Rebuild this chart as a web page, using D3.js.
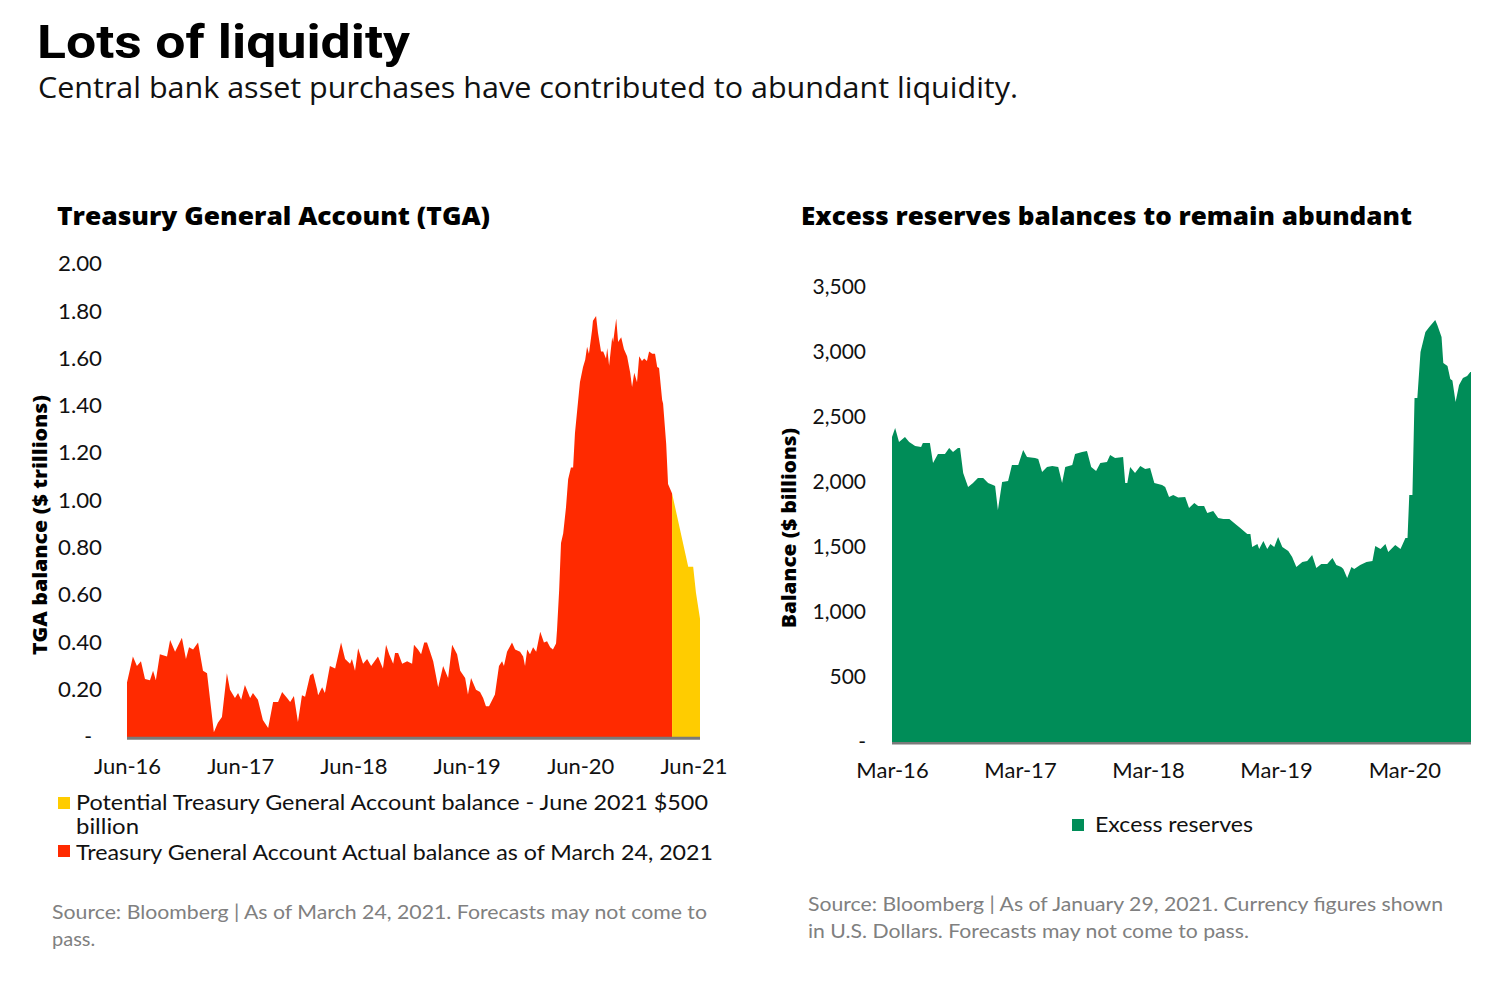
<!DOCTYPE html>
<html><head><meta charset="utf-8">
<script src="https://cdn.jsdelivr.net/npm/d3@7"></script>
<style>body{margin:0;background:#fff}svg{display:block}</style>
</head><body>
<svg id="c" width="1500" height="991"></svg>
<script>
// ---------------- DATA ----------------
// Treasury General Account, $ trillions (actual, through March 24, 2021)
const tgaActual = [
["2016-06-01",0.23],["2016-06-20",0.34],["2016-07-03",0.30],["2016-07-16",0.32],["2016-07-29",0.245],["2016-08-14",0.24],
["2016-08-24",0.28],["2016-09-02",0.24],["2016-09-15",0.35],["2016-10-08",0.34],["2016-10-18",0.41],["2016-11-03",0.36],
["2016-11-25",0.42],["2016-12-08",0.33],["2016-12-18",0.38],["2016-12-31",0.37],
["2017-01-16",0.40],["2017-02-01",0.28],["2017-02-14",0.27],["2017-03-08",0.02],["2017-03-21",0.06],["2017-04-03",0.085],
["2017-04-19",0.27],["2017-04-29",0.20],["2017-05-15",0.165],["2017-05-25",0.186],["2017-06-04",0.157],["2017-06-16",0.22],
["2017-07-03",0.165],["2017-07-12",0.186],["2017-07-28",0.157],["2017-08-13",0.072],["2017-08-30",0.038],["2017-09-15",0.148],
["2017-10-01",0.148],["2017-10-14",0.19],["2017-10-30",0.165],["2017-11-09",0.148],["2017-11-21",0.173],["2017-12-04",0.063],
["2017-12-17",0.177],["2017-12-27",0.17],
["2018-01-12",0.26],["2018-01-22",0.27],["2018-02-04",0.20],["2018-02-07",0.177],["2018-02-20",0.21],["2018-03-01",0.186],
["2018-03-17",0.30],["2018-04-03",0.29],["2018-04-22",0.40],["2018-05-05",0.33],["2018-05-21",0.31],["2018-05-27",0.33],
["2018-06-06",0.28],["2018-06-16",0.375],["2018-07-02",0.31],["2018-07-15",0.33],["2018-07-28",0.30],["2018-08-19",0.34],
["2018-09-04",0.29],["2018-09-14",0.39],["2018-09-24",0.35],["2018-10-07",0.31],["2018-10-13",0.355],["2018-10-23",0.355],
["2018-11-05",0.31],["2018-11-21",0.32],["2018-12-07",0.31],["2018-12-13",0.39],["2018-12-26",0.37],
["2019-01-05",0.35],["2019-01-15",0.40],["2019-01-24",0.40],["2019-02-03",0.36],["2019-02-13",0.32],["2019-03-01",0.21],
["2019-03-17",0.30],["2019-04-02",0.25],["2019-04-15",0.39],["2019-05-01",0.35],["2019-05-11",0.28],["2019-05-27",0.25],
["2019-06-05",0.18],["2019-06-15",0.25],["2019-07-01",0.20],["2019-07-14",0.19],["2019-07-24",0.165],["2019-08-02",0.13],
["2019-08-12",0.13],["2019-08-31",0.18],["2019-09-13",0.30],["2019-09-23",0.32],["2019-09-29",0.30],["2019-10-09",0.36],
["2019-10-25",0.40],["2019-11-04",0.37],["2019-11-20",0.36],["2019-11-30",0.34],["2019-12-06",0.30],["2019-12-13",0.37],
["2019-12-22",0.35],
["2020-01-01",0.38],["2020-01-11",0.36],["2020-01-24",0.445],["2020-02-05",0.40],["2020-02-15",0.405],["2020-02-25",0.38],
["2020-03-05",0.37],["2020-03-15",0.395],["2020-03-18",0.45],["2020-03-25",0.62],["2020-03-31",0.82],["2020-04-07",0.86],
["2020-04-16",0.97],["2020-04-23",1.09],["2020-05-02",1.14],["2020-05-09",1.14],["2020-05-15",1.285],["2020-05-22",1.38],
["2020-05-31",1.50],["2020-06-10",1.565],["2020-06-17",1.595],["2020-06-23",1.65],["2020-06-29",1.62],["2020-07-09",1.72],
["2020-07-12",1.76],["2020-07-22",1.78],["2020-07-28",1.71],["2020-08-07",1.63],["2020-08-14",1.63],["2020-08-23",1.60],
["2020-08-27",1.645],["2020-09-02",1.57],["2020-09-12",1.69],["2020-09-15",1.67],["2020-09-25",1.77],["2020-10-01",1.67],
["2020-10-11",1.69],["2020-10-20",1.64],["2020-10-30",1.61],["2020-11-09",1.54],["2020-11-15",1.48],["2020-11-22",1.54],
["2020-12-01",1.50],["2020-12-08",1.61],["2020-12-17",1.59],["2020-12-24",1.60],
["2021-01-02",1.59],["2021-01-09",1.63],["2021-01-19",1.62],["2021-01-28",1.62],["2021-02-04",1.565],["2021-02-10",1.56],
["2021-02-20",1.425],["2021-02-23",1.41],["2021-03-05",1.24],["2021-03-11",1.07],["2021-03-24",1.03]
];
// Potential TGA path to June 2021 ($500 billion)
const tgaPotential = [
["2021-03-24",1.03],["2021-05-15",0.72],["2021-05-31",0.72],["2021-06-09",0.61],["2021-06-22",0.50]
];
const tgaYTicks = [0,0.2,0.4,0.6,0.8,1.0,1.2,1.4,1.6,1.8,2.0];
const tgaXTickDates = ["2016-06-01","2017-06-01","2018-06-01","2019-06-01","2020-06-01","2021-06-01"];
const tgaXTickLabels = ["Jun-16","Jun-17","Jun-18","Jun-19","Jun-20","Jun-21"];

// Excess reserves, $ billions
const reserves = [
["2016-03-01",2346],["2016-03-10",2415],["2016-03-21",2308],["2016-04-07",2346],["2016-04-19",2308],["2016-05-06",2277],
["2016-05-23",2269],["2016-05-28",2300],["2016-06-17",2300],["2016-06-26",2146],["2016-07-10",2215],["2016-07-30",2215],
["2016-08-11",2262],["2016-08-22",2230],["2016-09-05",2262],["2016-09-11",2262],["2016-09-20",2069],["2016-10-04",1961],
["2016-10-18",1992],["2016-11-01",2031],["2016-11-16",2031],["2016-11-30",1992],["2016-12-14",1977],["2016-12-20",1970],
["2016-12-28",1785],
["2017-01-09",2000],["2017-01-26",2008],["2017-02-06",2131],["2017-02-24",2131],["2017-03-10",2246],["2017-03-21",2192],
["2017-04-13",2185],["2017-04-22",2177],["2017-05-03",2077],["2017-05-17",2115],["2017-06-01",2123],["2017-06-18",2115],
["2017-06-29",1992],["2017-07-08",2115],["2017-07-28",2131],["2017-08-05",2215],["2017-08-25",2230],["2017-09-08",2238],
["2017-09-20",2115],["2017-10-04",2085],["2017-10-16",2146],["2017-11-04",2154],["2017-11-13",2208],["2017-11-27",2185],
["2017-12-20",2192],["2017-12-26",1992],
["2018-01-01",1992],["2018-01-09",2115],["2018-01-23",2069],["2018-02-07",2123],["2018-02-21",2100],["2018-03-07",2108],
["2018-03-19",1992],["2018-04-10",1977],["2018-04-19",1961],["2018-04-30",1885],["2018-05-12",1900],["2018-05-26",1880],
["2018-06-15",1885],["2018-06-26",1800],["2018-07-11",1838],["2018-07-22",1815],["2018-08-08",1815],["2018-08-17",1761],
["2018-09-03",1777],["2018-09-17",1723],["2018-10-02",1715],["2018-10-19",1715],["2018-11-05",1677],["2018-11-19",1646],
["2018-12-09",1600],["2018-12-18",1600],["2018-12-23",1500],
["2019-01-07",1523],["2019-01-12",1485],["2019-01-24",1546],["2019-02-04",1485],["2019-02-13",1523],["2019-02-24",1500],
["2019-03-07",1577],["2019-03-19",1500],["2019-04-05",1469],["2019-04-16",1423],["2019-04-28",1346],["2019-05-15",1385],
["2019-05-29",1392],["2019-06-12",1438],["2019-06-24",1338],["2019-07-08",1369],["2019-07-25",1369],["2019-08-09",1415],
["2019-08-20",1362],["2019-09-03",1346],["2019-09-09",1331],["2019-09-20",1262],["2019-10-02",1346],["2019-10-10",1331],
["2019-10-27",1362],["2019-11-14",1385],["2019-12-01",1392],["2019-12-09",1508],["2019-12-24",1485],
["2020-01-07",1523],["2020-01-15",1462],["2020-02-04",1515],["2020-02-19",1485],["2020-03-04",1569],["2020-03-10",1569],
["2020-03-15",1900],["2020-03-24",1900],["2020-03-30",2646],["2020-04-07",2646],["2020-04-16",3000],["2020-04-30",3154],
["2020-05-11",3192],["2020-05-28",3246],["2020-06-03",3208],["2020-06-15",3115],["2020-06-20",2915],["2020-07-02",2892],
["2020-07-10",2792],["2020-07-16",2780],["2020-07-25",2615],["2020-08-04",2746],["2020-08-15",2800],["2020-08-27",2815],
["2020-09-05",2846],["2020-09-07",2846]
];
const resYTicks = [0,500,1000,1500,2000,2500,3000,3500];
const resXTickDates = ["2016-03-01","2017-03-01","2018-03-01","2019-03-01","2020-03-01"];
const resXTickLabels = ["Mar-16","Mar-17","Mar-18","Mar-19","Mar-20"];

// ---------------- DRAW ----------------
const parse = d3.timeParse("%Y-%m-%d");
const svg = d3.select("#c");
const BLACK = "#111";
const RED = "#FF2A00", YELLOW = "#FFCC00", GREEN = "#008D58", AXISGRAY = "#7a7a7a", SRCGRAY = "#808080";
const tickFont = "Lato, 'Open Sans', sans-serif";

// Headline
svg.append("text").attr("x", 37).attr("y", 58)
  .attr("font-family", "Roboto, 'Open Sans', sans-serif").attr("font-weight", 700).attr("font-size", 47)
  .attr("fill", "#000").attr("textLength", 373).attr("lengthAdjust", "spacingAndGlyphs")
  .text("Lots of liquidity");
svg.append("text").attr("x", 38).attr("y", 98)
  .attr("font-family", "'Open Sans', sans-serif").attr("font-size", 29)
  .attr("fill", "#111").attr("textLength", 980).attr("lengthAdjust", "spacingAndGlyphs")
  .text("Central bank asset purchases have contributed to abundant liquidity.");

// ===== Left chart: TGA =====
const xL = d3.scaleTime().domain([parse("2016-06-01"), parse("2021-06-22")]).range([127, 700]);
const yL = d3.scaleLinear().domain([0, 2]).range([737, 264]);

svg.append("text").attr("x", 57).attr("y", 225)
  .attr("font-family", "'Open Sans', sans-serif").attr("font-weight", 800).attr("font-size", 25)
  .attr("fill", "#000").attr("textLength", 433).attr("lengthAdjust", "spacingAndGlyphs")
  .text("Treasury General Account (TGA)");

const areaL = d3.area().x(d => xL(parse(d[0]))).y0(yL(0)).y1(d => yL(d[1])).curve(d3.curveLinear);
svg.append("path").datum(tgaActual).attr("d", areaL).attr("fill", RED);
svg.append("path").datum(tgaPotential).attr("d", areaL).attr("fill", YELLOW);
svg.append("line").attr("x1", xL.range()[0]).attr("x2", xL.range()[1])
  .attr("y1", yL(0) + 1.2).attr("y2", yL(0) + 1.2).attr("stroke", AXISGRAY).attr("stroke-width", 3);

const yAxL = svg.append("g").attr("transform", "translate(102,0)")
  .call(d3.axisLeft(yL).tickValues(tgaYTicks).tickSize(0).tickPadding(0)
    .tickFormat(d => d === 0 ? "-" : d3.format(".2f")(d)));
yAxL.select(".domain").remove();
yAxL.selectAll("text").attr("font-family", tickFont).attr("font-size", 21).attr("fill", BLACK)
  .attr("dx", d => d === 0 ? -10 : 0)
  .attr("textLength", d => d === 0 ? null : 44).attr("lengthAdjust", "spacingAndGlyphs");

const xAxL = svg.append("g").attr("transform", "translate(0,754)")
  .call(d3.axisBottom(xL).tickValues(tgaXTickDates.map(parse)).tickSize(0).tickPadding(4)
    .tickFormat((d, i) => tgaXTickLabels[i]));
xAxL.select(".domain").remove();
xAxL.selectAll("text").attr("font-family", tickFont).attr("font-size", 22).attr("fill", BLACK);

svg.append("text").attr("transform", "translate(47,525) rotate(-90)").attr("text-anchor", "middle")
  .attr("font-family", "'Open Sans', sans-serif").attr("font-weight", 800).attr("font-size", 20)
  .attr("fill", "#000").attr("textLength", 260).attr("lengthAdjust", "spacingAndGlyphs")
  .text("TGA balance  ($ trillions)");

// legend left
const legL = svg.append("g").attr("font-family", tickFont).attr("font-size", 21).attr("fill", BLACK);
legL.append("rect").attr("x", 58).attr("y", 797).attr("width", 12).attr("height", 12).attr("fill", YELLOW);
legL.append("text").attr("x", 76).attr("y", 810).attr("textLength", 632).attr("lengthAdjust", "spacingAndGlyphs")
  .text("Potential Treasury General Account balance - June 2021 $500");
legL.append("text").attr("x", 76).attr("y", 834).attr("textLength", 63).attr("lengthAdjust", "spacingAndGlyphs").text("billion");
legL.append("rect").attr("x", 58).attr("y", 845).attr("width", 12).attr("height", 12).attr("fill", RED);
legL.append("text").attr("x", 76).attr("y", 860).attr("textLength", 637).attr("lengthAdjust", "spacingAndGlyphs")
  .text("Treasury General Account Actual balance as of March 24, 2021");

const srcL = svg.append("g").attr("font-family", tickFont).attr("font-size", 20).attr("fill", SRCGRAY);
srcL.append("text").attr("x", 52).attr("y", 919).attr("textLength", 655).attr("lengthAdjust", "spacingAndGlyphs")
  .text("Source: Bloomberg | As of March 24, 2021. Forecasts may not come to");
srcL.append("text").attr("x", 52).attr("y", 946).text("pass.");

// ===== Right chart: Excess reserves =====
const xR = d3.scaleTime().domain([parse("2016-03-01"), parse("2020-09-07")]).range([892, 1471]);
const yR = d3.scaleLinear().domain([0, 3500]).range([742, 287]);

svg.append("text").attr("x", 801).attr("y", 225)
  .attr("font-family", "'Open Sans', sans-serif").attr("font-weight", 800).attr("font-size", 25)
  .attr("fill", "#000").attr("textLength", 611).attr("lengthAdjust", "spacingAndGlyphs")
  .text("Excess reserves balances to remain abundant");

const areaR = d3.area().x(d => xR(parse(d[0]))).y0(yR(0)).y1(d => yR(d[1])).curve(d3.curveLinear);
svg.append("path").datum(reserves).attr("d", areaR).attr("fill", GREEN);
svg.append("line").attr("x1", xR.range()[0]).attr("x2", xR.range()[1])
  .attr("y1", yR(0) + 1.2).attr("y2", yR(0) + 1.2).attr("stroke", AXISGRAY).attr("stroke-width", 2.5);

const yAxR = svg.append("g").attr("transform", "translate(866,0)")
  .call(d3.axisLeft(yR).tickValues(resYTicks).tickSize(0).tickPadding(0)
    .tickFormat(d => d === 0 ? "-" : d3.format(",")(d)));
yAxR.select(".domain").remove();
yAxR.selectAll("text").attr("font-family", tickFont).attr("font-size", 21).attr("fill", BLACK);

const xAxR = svg.append("g").attr("transform", "translate(0,758)")
  .call(d3.axisBottom(xR).tickValues(resXTickDates.map(parse)).tickSize(0).tickPadding(4)
    .tickFormat((d, i) => resXTickLabels[i]));
xAxR.select(".domain").remove();
xAxR.selectAll("text").attr("font-family", tickFont).attr("font-size", 22).attr("fill", BLACK);

svg.append("text").attr("transform", "translate(796,528) rotate(-90)").attr("text-anchor", "middle")
  .attr("font-family", "'Open Sans', sans-serif").attr("font-weight", 800).attr("font-size", 20)
  .attr("fill", "#000").attr("textLength", 200).attr("lengthAdjust", "spacingAndGlyphs")
  .text("Balance ($ billions)");

const legR = svg.append("g").attr("font-family", tickFont).attr("font-size", 22).attr("fill", BLACK);
legR.append("rect").attr("x", 1072).attr("y", 819).attr("width", 12).attr("height", 12).attr("fill", GREEN);
legR.append("text").attr("x", 1095).attr("y", 832).attr("textLength", 158).attr("lengthAdjust", "spacingAndGlyphs")
  .text("Excess reserves");

const srcR = svg.append("g").attr("font-family", tickFont).attr("font-size", 20).attr("fill", SRCGRAY);
srcR.append("text").attr("x", 808).attr("y", 911).attr("textLength", 635).attr("lengthAdjust", "spacingAndGlyphs")
  .text("Source: Bloomberg | As of January 29, 2021. Currency figures shown");
srcR.append("text").attr("x", 808).attr("y", 938).attr("textLength", 441).attr("lengthAdjust", "spacingAndGlyphs")
  .text("in U.S. Dollars. Forecasts may not come to pass.");
</script>
</body></html>
